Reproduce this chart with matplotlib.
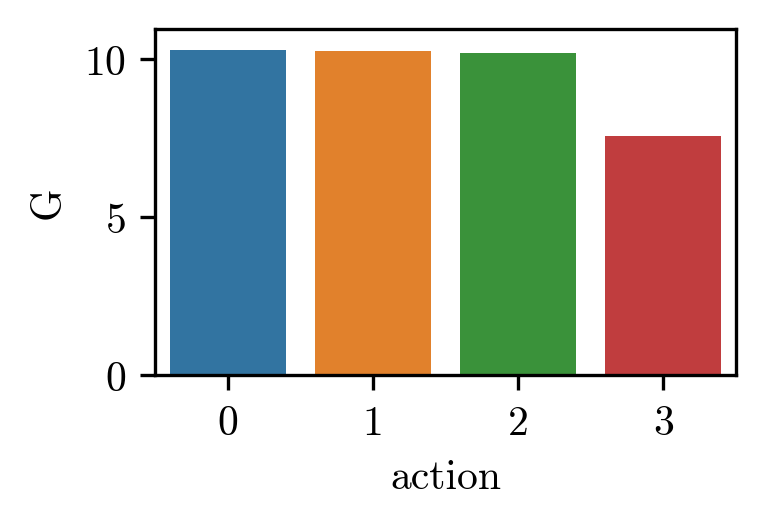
import matplotlib
matplotlib.use("Agg")
import matplotlib.pyplot as plt
import seaborn as sns

plt.rcParams.update({
    "font.family": "serif",
    "font.serif": ["cmr10"],
    "mathtext.fontset": "cm",
    "axes.formatter.use_mathtext": True,
    "font.size": 10,
    "axes.unicode_minus": False,
})

actions = [0, 1, 2, 3]
G = [10.29, 10.25, 10.19, 7.56]

fig = plt.figure(figsize=(2.55, 1.753), dpi=300)
ax = fig.add_axes([155 / 765, 1 - 376 / 526, (736 - 155) / 765, (376 - 30) / 526])
sns.barplot(x=actions, y=G, hue=actions, palette="tab10", legend=False, ax=ax)
ax.set_xlabel("action")
ax.set_ylabel("G")
ax.set_ylim(0, 10.95)
ax.set_yticks([0, 5, 10])
fig.savefig("out.png", dpi=300)
